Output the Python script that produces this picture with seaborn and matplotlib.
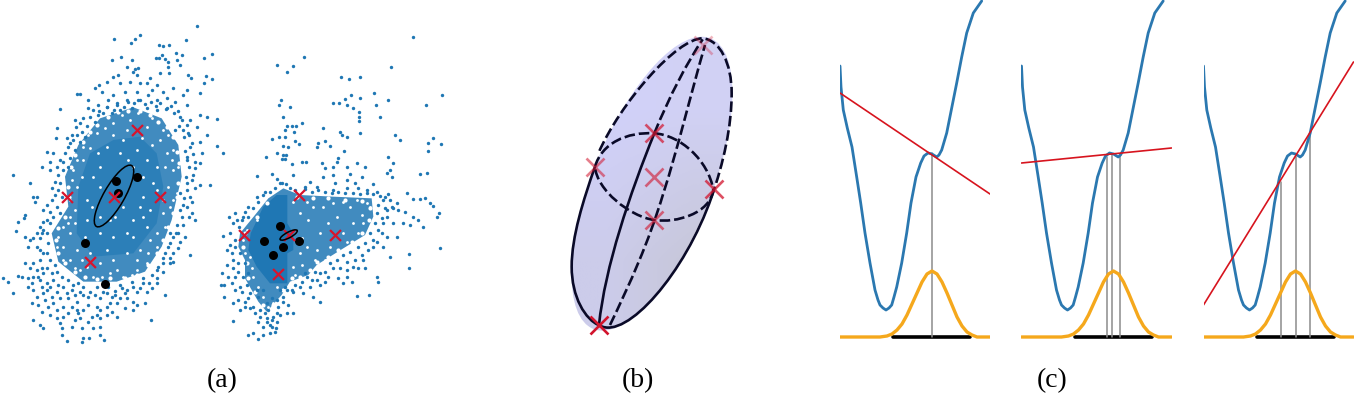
import seaborn as sns
import pandas as pd
import matplotlib.pyplot as plt
from matplotlib.patches import Ellipse, Polygon, PathPatch
from matplotlib.path import Path

W, H = 1359, 395

# Panel (a): points read by eye. The dense middle of each cloud cannot be read
# point by point, so it is drawn as outlines, with the
# larger white gaps marked on top.
left_points = [(590,18),(342,58),(420,44),(405,58),(392,68),(557,60),(478,76),(507,74),(490,78),(635,102),(528,100),(545,106),(487,105),(467,115),(478,115),(495,118),(505,125),(530,120),(362,110),(335,120),(397,120),(612,115),(505,140),(540,135),(380,142),(405,148),(415,145),(400,155),(412,165),(480,160),(508,160),(565,165),(617,168),(635,178),(612,188),(572,175),(355,165),(320,185),(297,195),(285,205),(240,222),(230,222),(450,175),(440,190),(470,195),(420,190),(390,185),(360,190),(340,170),(560,210),(600,218),(550,225),(520,205),(490,215),(455,210),(410,215),(375,215),(340,225),(305,215),(325,240),(265,240),(180,268),(295,255),(470,240),(500,235),(525,245),(560,255),(540,290),(570,300),(445,225),(415,240),(380,240),(350,250),(320,260),(295,285),(470,270),(440,265),(395,265),(360,270),(335,280),(550,330),(525,330),(565,340),(500,265),(650,298),(620,290),(600,285),(590,320),(620,345),(600,365),(575,368),(605,400),(600,430),(585,445),(560,420),(580,465),(560,490),(540,520),(570,530),(560,560),(540,570),(510,640),(670,398),(650,378),(630,495),(600,495),(585,600),(575,580),(535,640),(530,615),(555,650),(510,670),(535,685),(570,705),(520,725),(510,730),(490,730),(470,750),(470,775),(430,790),(400,800),(365,805),(335,830),(300,835),(265,830),(230,845),(205,835),(180,835),(155,830),(130,820),(110,830),(95,850),(115,855),(145,860),(170,870),(215,860),(250,870),(290,860),(320,860),(350,850),(380,835),(410,855),(400,845),(495,825),(435,850),(452,900),(400,870),(375,865),(350,890),(320,885),(300,895),(275,890),(240,895),(225,900),(190,890),(180,910),(98,900),(120,915),(130,925),(185,945),(312,960),(300,945),(250,955),(268,955),(245,967),(200,963),(10,775),(25,785),(55,768),(40,818),(85,800),(100,770),(75,730),(90,660),(75,652),(100,655),(130,630),(48,632),(55,605),(75,585),(72,595),(100,530),(110,530),(105,545),(90,488),(40,465),(125,440),(142,395),(160,400),(170,323),(168,355),(180,420),(150,425),(150,450),(120,780),(140,790),(95,790),(160,780),(190,800),(215,810),(240,815),(100,730),(120,720),(150,720),(85,680),(110,680),(130,700),(120,655),(140,600),(120,620),(150,575),(130,570),(155,540),(175,510),(165,485),(190,450),(195,400),(210,370),(230,345),(200,355),(225,300),(250,295),(280,270),(265,265)]
left_rim = [(215,345),(228,322),(245,335),(240,310),(262,318),(270,290),(285,305),(296,272),(310,280),(322,262),(342,270),(352,255),(372,262),(385,245),(402,250),(420,240),(436,252),(452,245),(468,258),(480,250),(497,268),(512,258),(522,280),(535,272),(547,300),(560,315),(538,318),(566,345),(552,352),(570,380),(556,392),(578,402),(562,410),(585,425),(568,440),(575,480),(558,470),(585,505),(562,510),(552,535),(575,545),(548,555),(568,590),(545,590),(528,640),(550,615),(520,650),(540,665),(505,680),(520,700),(495,700),(510,715),(488,715),(475,740),(490,755),(455,765),(470,790),(448,790),(430,775),(420,805),(395,785),(380,810),(360,795),(345,812),(325,800),(310,815),(290,800),(270,815),(250,800),(235,790),(220,795),(205,780),(185,770),(170,755),(155,760),(140,745),(165,735),(125,745),(140,700),(120,690),(145,670),(125,640),(140,640),(110,640),(130,605),(150,610),(160,590),(170,560),(180,580),(140,555),(185,530),(165,525),(180,490),(155,505),(175,465),(205,440),(170,440),(210,415),(190,425),(225,390),(205,380),(240,365),(220,360),(255,350),
            (130,760),(110,750),(115,770),(150,800),(175,795),(200,820),(225,825),(250,825),(285,825),(320,820),(345,825),(375,820),(410,815),(440,815),(455,805),(170,815),(140,810),(125,800),(100,810),(85,775),(90,745),(65,770),(160,850),(190,860),(230,870),(265,855),(300,870),(330,850),(360,835),(135,840),(125,875),(150,885),(170,895),(205,880),(235,880),(265,905),(290,885),(335,875),(215,920),(245,925),(280,925),(300,920),(185,925)]

right_points = [(1240,52),(912,110),(830,135),(880,137),(860,156),(1172,142),(1022,170),(1048,178),(1080,170),(1326,225),(1122,218),(1052,224),(1035,237),(1080,235),(1163,240),(843,240),(838,256),(870,260),(1000,248),(1018,248),(1040,255),(1060,265),(1128,255),(1277,255),(1078,275),(1076,290),(1076,302),(1140,292),(850,292),(905,310),(860,318),(875,318),(887,318),(855,330),(882,335),(970,325),(1020,335),(1080,340),(1040,350),(1025,345),(1185,345),(1200,360),(1300,355),(1285,368),(1322,372),(815,357),(838,352),(855,350),(885,362),(897,372),(850,378),(863,380),(955,370),(975,362),(990,378),(950,380),(1033,392),(1285,394),(830,398),(797,412),(850,405),(858,405),(845,418),(855,418),(1015,415),(1165,410),(1070,428),(1180,428),(905,425),(918,425),(875,432),(965,430),(1010,425),(1000,440),(1040,440),(1095,440),(975,445),(815,462),(1160,458),(770,468),(880,465),(830,478),(840,490),(1170,450),(1175,470),(1260,462),(1280,460),(970,470),(1000,465),(1050,462),(1085,470),(930,485),(1005,490),(1065,490),(1120,492),(1040,480),(1220,520),(1165,522),(1240,537),(1260,537),(1275,535),(1290,550),(1300,558),(1190,550),(1175,560),(1195,570),(1215,575),(1240,590),(1255,600),(1270,620),(1310,590),(1318,580),(1160,590),(1150,610),(1180,610),(1210,610),(1230,615),(1160,650),(1190,650),(1150,680),(1170,710),(1228,703),(1320,685),(1228,745),(1130,770),(1135,785),(1108,825),(1070,827),(1055,785),(1030,790),(1015,775),(1075,745),(1095,745),(1040,750),(1000,745),(960,845),(940,830),(670,647),(688,592),(705,580),(735,575),(745,560),(770,530),(795,515),(690,640),(705,680),(720,700),(698,720),(665,760),(680,735),(662,795),(672,795),(672,830),(700,850),(698,902),(745,945),(760,940),(773,957),(790,945),(810,940),(825,935),(828,925),(815,920),(800,895),(820,890),(795,880),(805,870),(780,870),(760,860),(735,860),(715,840),(720,800),(740,795),(705,770),(750,820),(775,830),(830,840),(850,830),(880,880),(860,880),(835,860),(830,880),(880,815),(900,800),(920,770),(950,780),(735,730),(745,760),(770,810),(800,850),(815,835),(790,810),(840,810),(855,800)]
right_rim = [(725,600),(745,590),(760,565),(775,545),(790,525),(810,515),(825,505),(845,490),(858,492),(870,505),(885,510),(915,508),(935,515),(955,510),(975,515),(995,518),(1015,515),(1035,520),(1060,518),(1080,522),(1100,520),(1120,522),(1140,528),(1150,540),(1135,555),(1155,565),(1130,580),(1145,595),(1125,610),(1135,630),(1110,640),(1120,660),(1095,670),(1105,690),(1075,680),(1085,705),(1050,695),(1065,720),(1030,705),(1040,725),(1010,720),(1020,745),(990,730),(975,755),(960,760),(945,755),(935,780),(915,760),(905,785),(885,795),(875,810),(860,810),(850,845),(865,855),(840,885),(815,900),(800,905),(780,890),(765,880),(750,865),(735,845),(745,835),(725,815),(730,770),(715,755),(715,730),(695,700),(705,660),(718,620),(698,610),(710,600),(730,590),(690,675),(680,690),(700,745),(685,770),(695,790),(705,810),(720,870),(775,905),(790,920),(830,905),(810,915),
             (1000,510),(950,500),(915,500),(1040,505),(1075,505),(1100,510),(1130,515),(1155,530),(1170,540),(1180,565),(1160,570),(1145,640),(1130,665),(1120,680),(1090,720),(1060,740),(1040,770),(985,770),(975,785),(960,795),(930,800),(910,820)]

left_outline = [(205,560),(195,470),(235,375),(300,295),(400,262),(485,295),(535,375),(545,470),(515,600),(485,680),(435,755),(350,785),(250,785),(175,725),(155,640)]
left_inner = [(270,400),(340,360),(420,350),(470,400),(490,500),(470,610),(400,700),(280,710),(230,640),(235,500)]
right_outline = [(720,640),(765,585),(805,535),(850,505),(900,525),(1000,530),(1115,535),(1120,590),(1095,645),(1030,685),(950,735),(925,765),(870,785),(845,825),(800,875),(775,845),(735,775),(735,720),(715,680)]
right_inner = [(752,640),(790,560),(830,525),(862,525),(862,610),(880,640),(880,690),(862,700),(862,790),(810,790),(770,740),(745,690)]
gaps = [(250,420),(280,470),(230,500),(260,540),(300,440),(320,380),(370,360),(410,390),(440,420),(470,440),(500,400),(480,360),(520,450),(505,500),(460,490),(430,470),(420,560),(450,570),(490,580),(440,620),(400,600),(380,640),(340,650),(300,640),(260,600),(225,610),(210,640),(190,680),(230,690),(270,700),(300,730),(340,720),(380,700),(420,690),(450,660),(470,640),(210,720),(240,750),(280,770),(330,760),(370,770),(410,750),(210,540),(220,450),(250,380),(290,340),(340,310),(390,300),(440,320),(490,330),(520,390),(530,520),(510,560),(210,590),(190,620),(170,680),(200,760),(480,700),(440,730),(360,400),(400,440),(330,600),(430,530),
        (240,350),(265,345),(315,325),(365,285),(415,280),(455,295),(505,345),(525,355),(515,420),(535,440),(495,440),(470,510),(520,540),(490,540),(495,620),(470,680),(445,700),(410,720),(395,765),(350,750),(305,770),(260,740),(225,745),(190,720),(175,650),(205,610),(225,570),(245,470),(215,480),(230,420),(270,385),(295,400),(340,345),(380,330),(425,355),(455,375),(385,420),(300,500),(275,560),(300,590),(345,590),(400,650),(430,590),(370,560),(255,650),(245,720),(320,690),(420,770),
        (970,560),(1010,590),(1050,560),(1085,585),(1030,640),(960,640),(990,680),(925,600),(1100,550),(900,700),(920,680),(945,720),(1060,610),(940,560),(1000,550),(750,710),(760,770),(790,830),(820,850),(730,660),(770,600),(880,740),(900,580),(1075,640),
        (1030,545),(1070,540),(1110,560),(985,610),(1090,610),(1040,665),(950,690),(975,720),(905,735),(885,765),(905,655),(920,545),(880,545),(735,700),(755,745),(775,800),(805,860),(830,800),(740,630),(1015,690)]
edge_gaps = [(208,530),(203,500),(212,440),(225,405),(250,365),(270,335),(290,315),(325,290),(355,275),(385,272),(420,272),(450,285),(475,305),(500,320),(518,350),(530,395),(538,430),(535,490),(530,530),(520,580),(505,620),(490,660),(470,700),(445,735),(410,765),(375,775),(330,775),(290,778),(255,772),(225,755),(195,730),(175,700),(168,660),(175,625),(195,590),
             (890,530),(940,535),(985,535),(1035,540),(1085,542),(1110,565),(1108,600),(1085,640),(1055,665),(1015,690),(985,710),(950,725),(930,750),(900,770),(875,775),(850,810),(820,855),(790,855),(765,815),(745,775),(742,730),(730,680),(735,640),(770,590),(800,550)]
crosses_a = [(411,330),(202,530),(342,530),(481,530),(271,727),(898,525),(731,645),(868,645),(1006,645),(835,763)]
dots_a = [(410,470),(348,482),(353,518),(255,669),(314,791),(839,617),(792,662),(849,681),(819,704),(896,662)]

# Panel (b): bezier runs, start point then three points per segment
outline_solid = [(195,440),(160,540),(125,650),(125,740),(125,830),(165,900),(210,917),(290,960),(465,760),(545,530)]
outline_dashed = [(545,530),(580,430),(605,320),(605,220),(605,130),(570,60),(518,55),(440,55),(270,250),(205,400)]
meridian_solid = [(207,915),(225,740),(300,520),(373,340)]
meridian_dashed = [(373,340),(420,225),(470,130),(518,58)]
meridian2 = [(240,915),(300,790),(355,670),(400,520),(445,380),(480,230),(525,75)]
equator = [(195,440),(215,370),(290,335),(373,340),(450,345),(535,420),(550,510),(540,580),(440,610),(373,600),(300,590),(200,510),(195,440)]
sigma_x = [520,373,195,373,552,373,207]
sigma_y = [75,340,440,472,507,600,915]
sigma_alpha = [0.3,0.7,0.55,0.6,0.75,0.6,1.0]

# Panel (c): curves in pixels from the left and up from the baseline
curve_x = [0,1,3.3,7.3,12,16.7,20.7,25,30,35,38,40,43,46,49,51.7,54,56.7,61.7,66.7,71,76,80.7,84,88,92,96.7,99,101.7,106.7,110.7,116.7,121.7,126.7,133.3,141.7]
curve_y = [271,250,227,209,190,160,134,104,74,47,37,32,29,27,29,32,40,50,74,104,134,160,174,181,184,183,180,182,187,204,224,254,280,304,324,336]
gauss_x = [0,40,47,52,57,62,67,72,77,82,87,92,97,102,107,112,117,122,127,132,137,150]
gauss_y = [0,0,1,3,7,13,22,33,44,55,63,66,63,55,44,32,20,11,5,2,0,0]
base_x = [53,130]
red_lines = [([0,150],[244,143]), ([0,150],[174,189]), ([0,150],[32,275])]
grey_x = [[91.7],[85.7,90,98.7],[77,92,106]]
grey_top = [[184],[180,183,182],[155,180,202]]
panel_left = [840,1021.5,1203.5]

labels = ["(a)", "(b)", "(c)"]
label_x = [222.5,637.5,1052]


def px_axes(fig, x0, y0, x1, y1):
    ax = fig.add_axes([x0/W, 1-y1/H, (x1-x0)/W, (y1-y0)/H])
    ax.patch.set_alpha(0)
    ax.set_axis_off()
    return ax


def xy(points):
    return pd.DataFrame(points, columns=["x", "y"])


def bezier(ax, points, style):
    codes = [Path.MOVETO] + [Path.CURVE4]*(len(points)-1)
    ax.add_patch(PathPatch(Path(points, codes), fc="none", ec="#0a0a28", lw=1.9, linestyle=style, zorder=2))


sns.set_style("white", {'axes.grid':False})
fig = plt.figure(figsize=(W/100, H/100), dpi=100)

# Panel (a) ----
ax = px_axes(fig, 0, 20, 460, 360)
for shape, alpha in [(left_outline,0.85),(left_inner,0.6),(right_outline,0.85),(right_inner,1.0)]:
    ax.add_patch(Polygon(shape, closed=True, fc="#1f77b4", ec="none", alpha=alpha, zorder=1))
sns.scatterplot(data=xy(edge_gaps), x="x", y="y", s=9, color="white", linewidth=0, ax=ax, zorder=1.5)
sns.scatterplot(data=xy(left_points + left_rim + right_points + right_rim), x="x", y="y", s=6, color="#1f77b4", linewidth=0, ax=ax, zorder=2)
sns.scatterplot(data=xy(gaps), x="x", y="y", s=4, color="white", linewidth=0, ax=ax, zorder=3)
sns.scatterplot(data=xy(dots_a), x="x", y="y", s=42, color="black", linewidth=0, ax=ax, zorder=4)
sns.scatterplot(data=xy(crosses_a), x="x", y="y", s=62, marker="x", color="#d7142d", linewidth=1.6, ax=ax, zorder=5)
ax.add_patch(Ellipse((342,528), 211, 62, angle=-60, fc="none", ec="black", lw=1.1, zorder=6))
ax.add_patch(Ellipse((866,645), 58, 17, angle=-28, fc="none", ec="black", lw=1.1, zorder=6))
ax.set_xlim(0, 1380)
ax.set_ylim(1020, 0)
ax.set_axis_off()

# Panel (b) ----
ax = px_axes(fig, 530, 20, 760, 350)
blob = Ellipse((366,491), 940, 356, angle=-68, fc="none", ec="none")
ax.add_patch(blob)
shade = ax.imshow([[[0.82,0.82,0.98],[0.82,0.82,0.96]],[[0.80,0.80,0.92],[0.78,0.78,0.85]]],
                  extent=(100,620,950,40), interpolation="bilinear", aspect="auto", zorder=1)
shade.set_clip_path(blob)
dashes = (0,(4,1.5))
for line, style in [(outline_solid,"-"),(meridian_solid,"-"),(outline_dashed,dashes),
                    (meridian_dashed,dashes),(meridian2,dashes),(equator,dashes)]:
    bezier(ax, line, style)
for sx, sy, a in zip(sigma_x, sigma_y, sigma_alpha):
    ax.plot(sx, sy, marker="x", ms=13.5, mew=1.9, color="#d2142d", alpha=a, linestyle="none", zorder=3)
ax.set_xlim(0, 690)
ax.set_ylim(990, 0)
ax.set_axis_off()

# Panel (c) ----
for i, left in enumerate(panel_left):
    ax = px_axes(fig, left, 0, left+150, 345)
    sns.lineplot(x=base_x, y=[0,0], color="black", lw=2.6, ax=ax, zorder=1)
    for gx, gt in zip(grey_x[i], grey_top[i]):
        ax.plot([gx,gx], [0,gt], color="#8c8c8c", lw=1.1, zorder=2)
    sns.lineplot(x=curve_x, y=curve_y, sort=False, estimator=None, color="#2b78b0", lw=2.0, ax=ax, zorder=3)
    sns.lineplot(x=gauss_x, y=gauss_y, sort=False, estimator=None, color="#f5a81c", lw=2.4, ax=ax, zorder=4)
    sns.lineplot(x=red_lines[i][0], y=red_lines[i][1], color="#d7141e", lw=1.2, ax=ax, zorder=5)
    ax.set_xlim(0, 150)
    ax.set_ylim(-8, 337)
    ax.set_axis_off()

for t, x in zip(labels, label_x):
    fig.text(x/W, 1-381/H, t, ha="center", va="center", fontsize=20, family="Liberation Serif", color="black")

fig.savefig("out.png", dpi=100)
